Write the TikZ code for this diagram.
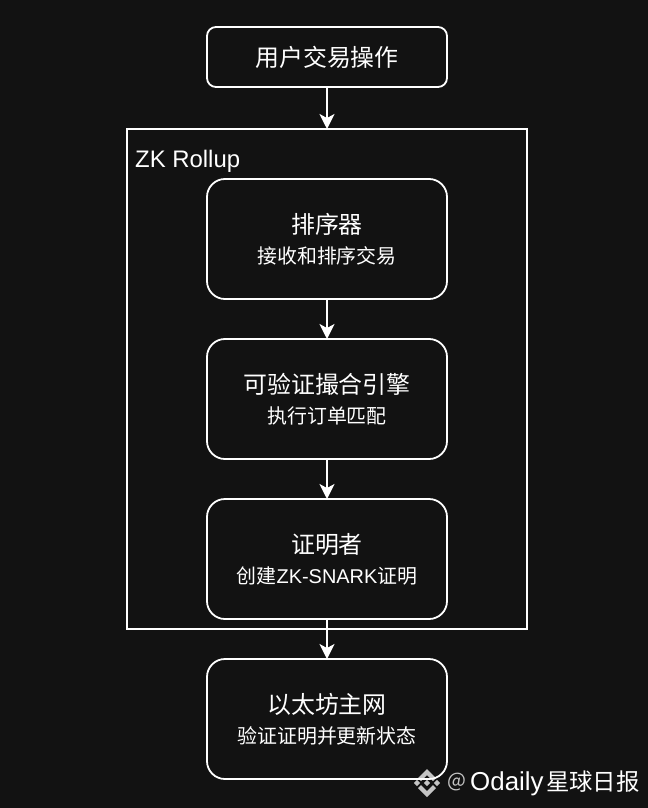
\documentclass[tikz,border=0pt]{standalone}
\usepackage{fontspec}
\setmainfont{Noto Sans CJK SC}
\newfontfamily\latinfont{Liberation Sans}
\usetikzlibrary{arrows.meta, positioning}
\definecolor{pagebg}{HTML}{121212}
\definecolor{markgrey}{HTML}{C4C4C4}
\tikzset{
  box/.style={draw=white, line width=1.8pt, rounded corners=18pt, outer sep=0pt,
              align=center, minimum width=240bp, minimum height=120bp, text=white, inner sep=0pt},
  link/.style={-{Stealth[length=15bp,width=15bp,inset=4bp]}, line width=1.8pt, white},
  gem/.style={fill=markgrey, draw=none, rotate=45, minimum size=#1, inner sep=0pt},
}
\newcommand{\headfont}{\fontsize{24}{28}\selectfont}
\newcommand{\subfont}{\fontsize{20}{26}\selectfont}

\begin{document}
\begin{tikzpicture}[x=1bp, y=-1bp]
  \useasboundingbox[fill=pagebg] (0,0) rectangle (648,808);

  % ---- Watermark ----
  \fill[markgrey] (427,769) -- (436,778) -- (433,781) -- (427,775) -- (421,781) -- (418,778) -- cycle;
  \fill[markgrey] (427,797) -- (436,788) -- (433,785) -- (427,791) -- (421,785) -- (418,788) -- cycle;
  \node[gem=4.5bp] (gemleft) at (417,783) {};
  \node[gem=4.5bp] (gemright) at (437,783) {};
  \node[gem=4.5bp] (gemmid) at (427,783) {};
  \node[text=markgrey, font=\fontsize{20}{22}\selectfont, anchor=west, inner sep=0pt] (markat) at (447,782) {@};
  \node[text=white, font=\latinfont\fontsize{26}{28}\selectfont, anchor=west, inner sep=0pt] (markname) at (470,784) {Odaily};
  \node[text=white, font=\fontsize{23.5}{28}\selectfont, anchor=east, inner sep=0pt] (markcn) at (640,782) {星球日报};

  % ---- Outer frame ----
  \node[draw=white, line width=1.8pt, outer sep=0pt, minimum width=400bp, minimum height=500bp, inner sep=0pt] (rollup) at (327,379) {};
  \node[text=white, font=\latinfont\fontsize{24}{28}\selectfont, anchor=west, inner sep=0pt] (rolluptitle) at (135,161) {ZK Rollup};

  % ---- Steps ----
  \node[box, minimum height=60bp, rounded corners=9pt, font=\headfont] (user) at (327,57) {\raisebox{1.5bp}{用户交易操作}};
  \node[box] (seq) at (327,239) {{\headfont 排序器}\\[10bp]{\subfont 接收和排序交易}};
  \node[box, below=40bp of seq] (match) {{\headfont 可验证撮合引擎}\\[10bp]{\subfont 执行订单匹配}};
  \node[box, below=40bp of match] (prover) {{\headfont 证明者}\\[10bp]{\subfont 创建{\latinfont ZK-SNARK}证明}};
  \node[box, below=40bp of prover] (eth) {{\headfont 以太坊主网}\\[10bp]{\subfont 验证证明并更新状态}};

  % ---- Edges ----
  \draw[link] (user) -- (rollup.north -| user);
  \draw[link] (seq) -- (match);
  \draw[link] (match) -- (prover);
  \draw[link] (prover) -- (eth);
\end{tikzpicture}
\end{document}
